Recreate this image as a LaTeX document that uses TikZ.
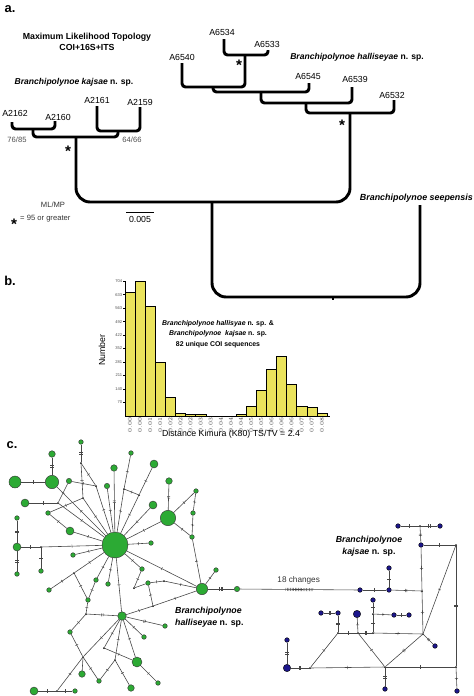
\documentclass[tikz,border=0pt]{standalone}
\usepackage{fontspec}
\setmainfont{Liberation Sans}
\usetikzlibrary{decorations.markings}
\definecolor{hapgreen}{RGB}{44,170,52}
\definecolor{hapblue}{RGB}{28,22,140}
\definecolor{baryellow}{RGB}{234,227,92}
\definecolor{edgegray}{RGB}{70,70,70}
\tikzset{
	branch/.style={line width=2.5pt,rounded corners=3pt},
	tiplabel/.style={font=\fontsize{7.5}{8}\selectfont,inner sep=0pt},
	species/.style={font=\fontsize{7.3}{8.5}\selectfont\bfseries,inner sep=0pt},
	support/.style={font=\fontsize{6.5}{7}\selectfont,text=black!70,inner sep=0pt},
	star/.style={font=\fontsize{13}{13}\selectfont\bfseries,inner sep=0pt},
	panel/.style={font=\fontsize{11}{11}\selectfont\bfseries,inner sep=0pt},
	bar/.style={draw=black,fill=baryellow,line width=0.5pt},
	hap/.style={circle,draw=black!80,fill=hapgreen,line width=0.35pt,inner sep=0pt,minimum size=#1*0.06cm},
	kap/.style={circle,draw=black,fill=hapblue,line width=0.35pt,inner sep=0pt,minimum size=#1*0.06cm},
	mv/.style={circle,fill=black,inner sep=0pt,minimum size=0.06cm},
	link/.style={draw=edgegray,line width=0.5pt},
	t0/.style={},
	t1/.style={postaction={decorate,decoration={markings,mark=at position 0.5 with {\draw[edgegray,line width=0.4pt] (0,-1.3pt) -- (0,1.3pt);}}}},
	t2/.style={postaction={decorate,decoration={markings,mark=at position 0.5 with {\draw[edgegray,line width=0.4pt] (-0.6pt,-1.3pt) -- (-0.6pt,1.3pt) (0.6pt,-1.3pt) -- (0.6pt,1.3pt);}}}},
	t3/.style={postaction={decorate,decoration={markings,mark=at position 0.5 with {\draw[edgegray,line width=0.4pt] (-1.1pt,-1.3pt) -- (-1.1pt,1.3pt) (0,-1.3pt) -- (0,1.3pt) (1.1pt,-1.3pt) -- (1.1pt,1.3pt);}}}},
	tmany/.style={postaction={decorate,decoration={markings,mark=between positions 0.39 and 0.62 step 0.0135 with {\draw[edgegray,line width=0.4pt] (0,-1.3pt) -- (0,1.3pt);}}}}
}
\begin{document}
\begin{tikzpicture}[x=0.03cm,y=-0.03cm]
	\useasboundingbox (0,0) rectangle (474,696);
	% a. tree
	\node[panel] (pa) at (10,9) {a.};
	\node[font=\fontsize{7.5}{9.5}\selectfont\bfseries,align=center] (title) at (87,42) {Maximum Likelihood Topology\\COI+16S+ITS};
	\node[species] (kaj) at (74,82) {\itshape Branchipolynoe kajsae\upshape{} n. sp.};
	\node[species] (hal) at (357,57) {\itshape Branchipolynoe halliseyae\upshape{} n. sp.};
	\node[species,anchor=east,font=\fontsize{7.6}{8.5}\selectfont\bfseries\itshape] (see) at (473,198) {Branchipolynoe seepensis};
	\node[tiplabel] (A2162) at (15,113) {A2162};
	\node[tiplabel] (A2160) at (58,117) {A2160};
	\node[tiplabel] (A2161) at (97,100) {A2161};
	\node[tiplabel] (A2159) at (140,102) {A2159};
	\node[tiplabel] (A6540) at (182,57) {A6540};
	\node[tiplabel] (A6534) at (222,32) {A6534};
	\node[tiplabel] (A6533) at (267,44) {A6533};
	\node[tiplabel] (A6545) at (308,76) {A6545};
	\node[tiplabel] (A6539) at (355,79) {A6539};
	\node[tiplabel] (A6532) at (392,95) {A6532};
	\node[support] (s1) at (17,140) {76/85};
	\node[support] (s2) at (132,140) {64/66};
	\node[star] (st1) at (68,151) {*};
	\node[star] (st2) at (239,65) {*};
	\node[star] (st3) at (342,125) {*};
	\draw[branch] (12,122) -- (12,129) -- (55,129) -- (55,121);
	\draw[branch] (33,129) -- (33,137) -- (118,137) -- (118,131);
	\draw[branch] (97,106) -- (97,131) -- (140,131) -- (140,107);
	\draw[branch] (224,39) -- (224,55) -- (268,55) -- (268,50);
	\draw[branch] (245,55) -- (245,87) -- (182,87) -- (182,63);
	\draw[branch] (213,87) -- (213,92) -- (309,92) -- (309,83);
	\draw[branch] (261,92) -- (261,103) -- (352,103) -- (352,87);
	\draw[branch] (306,103) -- (306,113) -- (394,113) -- (394,100);
	\draw[branch,rounded corners=12pt] (76,137) -- (76,202) -- (350,202) -- (350,113);
	\draw[branch,rounded corners=12pt] (212,202) -- (212,297) -- (420,297) -- (420,205);
	\draw[line width=1pt] (333,297) -- (333,300);
	\node[support,text=black!80] (mlmp) at (53,205) {ML/MP};
	\node[star] (st0) at (14,224) {*};
	\node[support,anchor=west,text=black!80] (leg) at (20,219) {= 95 or greater};
	\draw[line width=0.6pt] (126,212) -- (154,212);
	\node[tiplabel] (scale) at (140,219) {0.005};
	% b. histogram
	\node[panel] (pb) at (10,281) {b.};
	\foreach \h [count=\i from 0] in {646,700,570,278,96,14,7,7,0,0,0,7,49,136,245,313,165,49,45,14}
		\filldraw[bar] (125+10.1*\i,416) rectangle (135.1+10.1*\i,416-\h*0.1918);
	\draw[line width=0.6pt] (125,281) -- (125,416) -- (330,416);
	\foreach \v in {70,140,211,281,352,422,492,563,633,704} {
		\draw[line width=0.4pt] (123,416-\v*0.1918) -- (125,416-\v*0.1918);
		\node[anchor=east,inner sep=0.5pt,font=\fontsize{3.5}{4}\selectfont,text=black!70] at (123,416-\v*0.1918) {\v};
	}
	\foreach \i in {0,...,19} {
		\pgfmathsetmacro\d{0.004*\i}
		\node[anchor=east,rotate=90,inner sep=0.5pt,font=\fontsize{3.5}{4}\selectfont,text=black!70] at (130+10.1*\i,417) {\pgfmathprintnumber[fixed,fixed zerofill,precision=2]{\d}};
	}
	\node[rotate=90,font=\fontsize{7.5}{8}\selectfont] (num) at (102,350) {Number};
	\node[font=\fontsize{7.5}{8}\selectfont] (dist) at (231,434) {Distance Kimura (K80) TS/TV = 2.4};
	\node[font=\fontsize{5.9}{9.2}\selectfont\bfseries,align=center] (htext) at (218,334) {\itshape Branchipolynoe hallisyae\upshape{} n. sp. \&\\\itshape Branchipolynoe~ kajsae\upshape{} n. sp.\\82 unique COI sequences};
	% c. networks
	\node[panel] (pc) at (12,445) {c.};
	\foreach \n/\x/\y/\r in {h0/115/545/13, g1/81/442/2.3, g2/52/454/3.3, g3/15/482/6, g4/52/482/6.7, g5/69/481/2.7,
		g6/131/453/2.3, g7/114/468/3.3, g8/154/464/4, g9/107/486/2.7, g10/169/481/3.3, g11/196/491/2.3,
		g12/153/505/4, g13/168/518/7.7, g14/193/513/2.3, g15/192/537/2.3, g16/25/503/4, g17/48/513/2.3,
		g18/70/531/4, g19/17/518/2.3, g20/17/547/4, g21/17/574/2.3, g22/41/571/2.3, g23/73/555/2.3,
		g24/151/543/2.3, g25/108/584/2.3, g26/49/590/2.3, g27/96/580/2.3, g28/142/569/2.3, g29/148/583/2.3,
		g30/216/570/2.3, g31/202/589/5.7, g32/237/589/2.7, g33/88/600/2.3, h1/122/616/4.3, g35/70/632/2.3,
		g36/165/626/2.3, g37/144/637/2.3, g38/137/662/5, g39/82/674/3.3, g40/99/681/2.3, g41/131/688/3.3,
		g42/34/691/4, g43/75/691/2.3, g44/158/683/2.3}
		\node[hap=\r] (\n) at (\x,\y) {};
	\foreach \n/\x/\y in {m1/81/463, m2/96/486, m3/83/498, m4/58/503, m5/124/489, m6/139/495, m7/41/547,
		m8/74/573, m9/134/588, m10/164/581, m11/153/606, m12/86/614, m13/104/648, m14/83/657, m15/115/660, m16/57/691}
		\node[mv] (\n) at (\x,\y) {};
	\foreach \a/\b/\s in {g1/m1/t2, m1/m2/t1, m1/m3/t1, g5/m2/t1, m2/h0/t1, m3/h0/t1, g17/m3/t1, g16/m4/t1,
		m4/g5/t1, m4/h0/t1, g3/g4/t1, g2/g4/t2, g4/h0/t1, g17/g18/t1, g18/h0/t1, g19/g20/t2, g20/g21/t2,
		g20/m7/t1, m7/g22/t1, m7/h0/t1, g23/h0/t1, g6/m5/t1, m5/h0/t1, m5/m6/t1, g8/m6/t1, m6/h0/t1,
		g7/h0/t2, g9/h0/t1, g12/h0/t1, g13/h0/t1, g10/g13/t2, g13/g11/t1, g11/g14/t1, g14/g15/t1, g13/g15/t1,
		g15/g31/t1, h0/g24/t1, h0/g31/t1, h0/g25/t1, h0/g27/t1, h0/h1/t1, h0/m8/t1, m8/g26/t1, m8/g33/t1,
		g27/g33/t1, m12/h1/t2, m12/g33/t1, m12/g35/t1, g35/m14/t1, h1/m14/t1, m14/m16/t1, m14/g39/t0,
		m14/g40/t1, m16/g42/t1, m16/g43/t1, h1/m13/t1, m13/g38/t1, h1/m15/t1, m15/g40/t1, m15/g41/t1,
		h1/g38/t1, g38/g44/t1, h1/g36/t2, h1/g37/t1, h1/m11/t1, m11/g31/t1, h0/g28/t1, g28/m9/t1,
		m9/g29/t0, g29/m10/t1, m10/g31/t1, g29/m11/t1, g30/g31/t1, g31/g32/t3}
		\draw[link,\s] (\a) -- (\b);
	\node[species,anchor=west,align=left,font=\fontsize{7.5}{10}\selectfont\bfseries] (halnet) at (175,617) {\itshape Branchipolynoe\\\itshape halliseyae\upshape{} n. sp.};
	\node[species,align=center,font=\fontsize{7.5}{10}\selectfont\bfseries] (kajnet) at (369,546) {\itshape Branchipolynoe\\\itshape kajsae\upshape{} n. sp.};
	\foreach \n/\x/\y/\r in {k1/398/526/2.3, k2/440/526/2.3, k3/421/545/2.3, k4/389/568/2.3, k5/360/590/2.3,
		k6/389/590/2.3, k7/373/600/2.3, k8/321/613/2.3, k9/338/613/2.3, k10/357/614/3.7, k11/394/615/2.3,
		k12/409/615/2.3, k13/287/640/2.3, k14/287/668/3.7, k15/435/646/2.3, k16/385/689/2.3, k17/457/691/2.3}
		\node[kap=\r] (\n) at (\x,\y) {};
	\foreach \n/\x/\y in {n1/420/526, n2/456/545, n3/422/591, n4/373/614, n5/338/633, n6/358/633,
		n7/373/633, n8/423/634, n9/310/668, n10/385/667, n11/456/667}
		\node[mv] (\n) at (\x,\y) {};
	\draw[link,tmany] (g32) -- (k5) node[midway,above=1pt,font=\fontsize{7}{8}\selectfont,text=black!80] (chg) {18 changes};
	\foreach \a/\b/\s in {k5/k6/t1, k4/k6/t1, k6/n3/t2, k1/n1/t1, n1/k2/t2, n1/k3/t2, k3/n2/t1, k3/n3/t1,
		n3/n8/t1, n2/n8/t1, n2/n11/t2, n11/k17/t1, n8/k15/t2, n8/n7/t1, n7/n6/t2, n6/n5/t1, k7/n4/t1,
		n4/n7/t1, n4/k11/t1, k11/k12/t1, k8/k9/t2, k9/n5/t2, k10/n6/t1, n5/n9/t1, n9/k14/t2, k13/k14/t2,
		n9/n10/t1, n10/n11/t1, n6/n10/t1, n10/n8/t2, n10/k16/t2}
		\draw[link,\s] (\a) -- (\b);
\end{tikzpicture}
\end{document}
